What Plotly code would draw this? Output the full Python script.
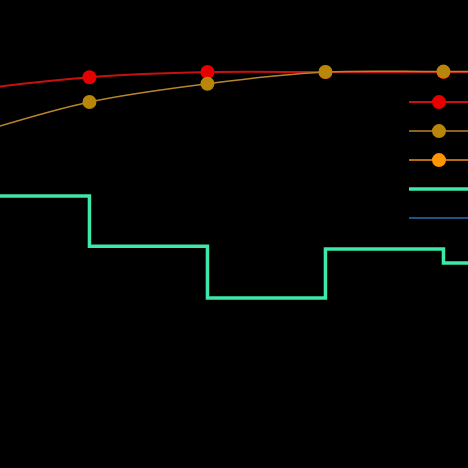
import plotly.graph_objects as go

# periodos (o primeiro fica fora da vista, a esquerda)
periodos = [-1, 0, 1, 2, 3, 4]

# series
serie_vermelha = [80.8, 83.5, 84.6, 84.6, 84.6, 84.7]
serie_marrom = [71.2, 78.2, 82.1, 84.6, 84.7, 84.8]
serie_degrau = [58.1, 47.4, 36.3, 46.8, 43.8, 43.8]
# estas duas ficam fora da area visivel (so aparecem na legenda)
periodos_fora = [5, 6]
serie_laranja = [60.0, 62.0]
serie_azul = [30.0, 31.0]

nomes = ["A", "B", "C", "D", "E"]

fig = go.Figure()

fig.add_trace(go.Scatter(x=periodos, y=serie_vermelha, name=nomes[0], mode="lines+markers",
                         line=dict(color="#c81010", width=2, shape="spline"),
                         marker=dict(color="#e60000", size=14)))
fig.add_trace(go.Scatter(x=periodos, y=serie_marrom, name=nomes[1], mode="lines+markers",
                         line=dict(color="#b8862a", width=1.5, shape="spline"),
                         marker=dict(color="#b8860b", size=14)))
fig.add_trace(go.Scatter(x=periodos_fora, y=serie_laranja, name=nomes[2], mode="lines+markers",
                         line=dict(color="#f0901a", width=1.5),
                         marker=dict(color="#ff9400", size=14)))
fig.add_trace(go.Scatter(x=periodos, y=serie_degrau, name=nomes[3], mode="lines",
                         line=dict(color="#3de8a8", width=3.5, shape="hv")))
fig.add_trace(go.Scatter(x=periodos_fora, y=serie_azul, name=nomes[4], mode="lines",
                         line=dict(color="#2a6fb0", width=1.5)))

fig.update_layout(
    width=468, height=468,
    margin=dict(l=0, r=0, t=0, b=0, autoexpand=False),
    paper_bgcolor="black", plot_bgcolor="black",
    showlegend=True,
    legend=dict(x=0.8632, y=0.8235, xanchor="left", yanchor="top", itemwidth=60,
                bgcolor="rgba(0,0,0,0)", font=dict(size=20, color="white")),
)
fig.update_xaxes(range=[-0.758, 3.208], visible=False)
fig.update_yaxes(range=[0, 100], visible=False)

# fundo preto na pagina toda, sem margem do body
fig.write_html("out.html", config={"displayModeBar": False},
               post_script="document.body.style.margin='0';document.body.style.background='black';")
